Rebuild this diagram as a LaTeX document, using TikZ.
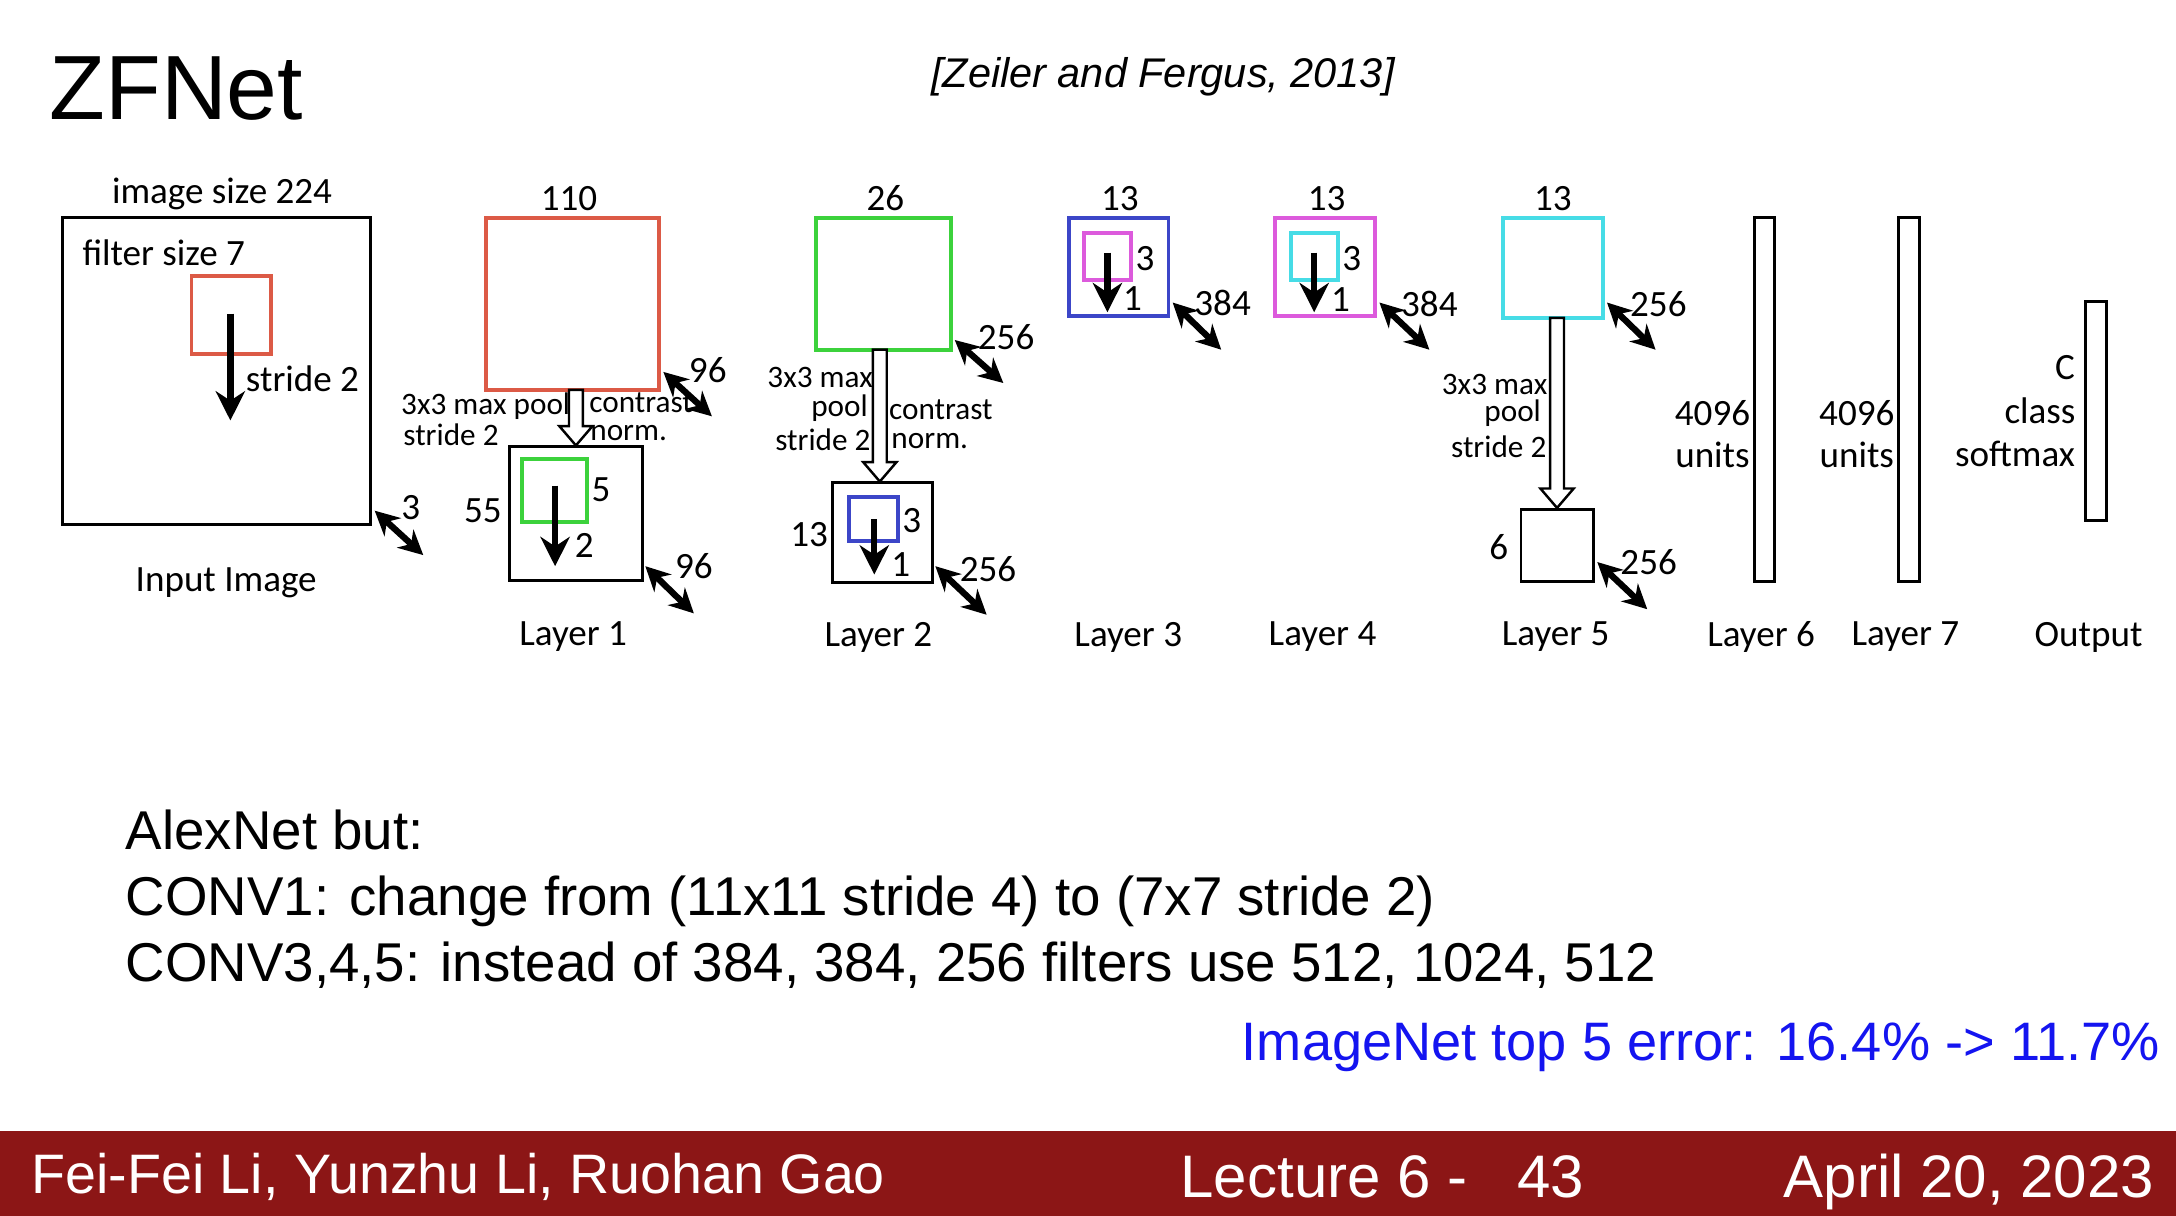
\documentclass[tikz,border=0pt]{standalone}
\usepackage{fontspec}
\setmainfont{Liberation Sans}
\newfontfamily\dfont{Carlito}
\usetikzlibrary{arrows.meta}
\definecolor{foot}{RGB}{140,22,22}
\definecolor{gn}{RGB}{60,210,60}
\definecolor{rd}{RGB}{220,90,70}
\definecolor{bl}{RGB}{60,70,200}
\definecolor{mg}{RGB}{220,90,220}
\definecolor{cy}{RGB}{70,220,230}
\tikzset{
 lab/.style={font=\dfont\fontsize{6.4}{7}\selectfont,inner sep=0pt},
 lay/.style={font=\dfont\fontsize{7.6}{8}\selectfont,inner sep=0pt},
 box/.style={draw=black,line width=0.6pt},
 darr/.style={line width=1.3pt,{Stealth[length=5pt,width=5pt]}-{Stealth[length=5pt,width=5pt]}},
 darrow/.style={line width=1.3pt,-{Stealth[length=6pt,width=6pt]}},
 body/.style={font=\fontsize{11.2}{13}\selectfont,inner sep=0pt,anchor=base west},
}
\newcommand{\hollow}[3]{% x, ytop, ybot
 \draw[line width=0.5pt,fill=white] (#1-5,#2) -- (#1+5,#2) -- (#1+5,#3-14) -- (#1+12,#3-14) -- (#1,#3) -- (#1-12,#3-14) -- (#1-5,#3-14) -- cycle;}
\begin{document}
\begin{tikzpicture}[x=0.01cm,y=-0.01cm]
\useasboundingbox (0,0) rectangle (1568,876);
\fill[white] (0,0) rectangle (1568,876);
\node[font=\fontsize{18.7}{22}\selectfont,anchor=base west,inner sep=0] (title) at (35,86) {ZFNet};
\node[font=\fontsize{8.5}{10}\selectfont\itshape,inner sep=0] (cite) at (838,55) {[Zeiler and Fergus, 2013]};
% input
\draw[box] (45,157) rectangle (267,378);
\node[lay] at (160,140) {image size 224};
\node[lay] at (118,182) {filter size 7};
\draw[rd,line width=0.8pt] (138,199) rectangle (195,255);
\draw[darrow] (166,226) -- (166,303);
\node[lay] at (218,273) {stride 2};
\draw[darr] (270,368) -- (305,400);
\node[lay] at (296,366) {3};
\node[lay] at (163,420) {Input Image};
% layer1
\draw[rd,line width=0.8pt] (350,157) rectangle (475,281);
\node[lay] at (410,143) {110};
\hollow{415}{281}{321}
\node[lab] at (350,293) {3x3 max pool};
\node[lab] at (325,313) {stride 2};
\node[lab] at (462,290) {contrast};
\node[lab] at (453,312) {norm.};
\draw[darr] (478,268) -- (513,300);
\node[lay] at (510,267) {96};
\draw[box] (367,322) rectangle (463,418);
\draw[gn,line width=0.8pt] (376,331) rectangle (423,376);
\draw[darrow] (400,350) -- (400,408);
\node[lay] at (433,353) {5};
\node[lay] at (421,393) {2};
\node[lay] at (348,368) {55};
\draw[darr] (465,408) -- (500,442);
\node[lay] at (500,408) {96};
\node[lay] at (413,459) {Layer 1};
% layer2
\draw[gn,line width=0.8pt] (588,157) rectangle (685,252);
\node[lay] at (638,143) {26};
\hollow{634}{252}{347}
\node[lab] at (591,272) {3x3 max};
\node[lab] at (605,294) {pool};
\node[lab] at (593,317) {stride 2};
\node[lab] at (678,295) {contrast};
\node[lab] at (670,318) {norm.};
\draw[darr] (688,245) -- (723,276);
\node[lay] at (725,243) {256};
\draw[box] (600,348) rectangle (672,420);
\draw[bl,line width=0.8pt] (612,358) rectangle (647,390);
\draw[darrow] (630,374) -- (630,414);
\node[lay] at (657,375) {3};
\node[lay] at (649,407) {1};
\node[lay] at (583,385) {13};
\draw[darr] (674,408) -- (711,443);
\node[lay] at (712,410) {256};
\node[lay] at (633,459) {Layer 2};
% layer3
\draw[bl,line width=0.8pt] (770,157) rectangle (842,228);
\node[lay] at (807,143) {13};
\draw[mg,line width=0.8pt] (781,168) rectangle (815,202);
\draw[darrow] (798,182) -- (798,225);
\node[lay] at (825,186) {3};
\node[lay] at (816,215) {1};
\draw[darr] (845,218) -- (880,252);
\node[lay] at (881,218) {384};
\node[lay] at (813,459) {Layer 3};
% layer4
\draw[mg,line width=0.8pt] (919,157) rectangle (991,228);
\node[lay] at (956,143) {13};
\draw[cy,line width=0.8pt] (930,168) rectangle (964,202);
\draw[darrow] (947,182) -- (947,225);
\node[lay] at (974,186) {3};
\node[lay] at (966,216) {1};
\draw[darr] (994,218) -- (1030,252);
\node[lay] at (1030,219) {384};
\node[lay] at (953,459) {Layer 4};
% layer5
\draw[cy,line width=0.8pt] (1083,157) rectangle (1155,229);
\node[lay] at (1119,143) {13};
\hollow{1122}{229}{366}
\node[lab] at (1077,277) {3x3 max};
\node[lab] at (1090,298) {pool};
\node[lab] at (1080,322) {stride 2};
\draw[darr] (1158,218) -- (1193,252);
\node[lay] at (1195,219) {256};
\draw[box] (1096,367) rectangle (1148,419);
\node[lay] at (1080,394) {6};
\draw[darr] (1151,405) -- (1187,439);
\node[lay] at (1188,405) {256};
\node[lay] at (1121,459) {Layer 5};
% layer 6,7, output
\draw[box] (1264,157) rectangle (1279,419);
\node[lay] at (1234,298) {4096};
\node[lay] at (1234,328) {units};
\node[lay] at (1269,459) {Layer 6};
\draw[box] (1368,157) rectangle (1383,419);
\node[lay] at (1338,298) {4096};
\node[lay] at (1338,328) {units};
\node[lay] at (1373,459) {Layer 7};
\draw[box] (1503,217) rectangle (1518,375);
\node[lay] at (1488,265) {C};
\node[lay] at (1470,296) {class};
\node[lay] at (1452,327) {softmax};
\node[lay] at (1505,459) {Output};
% text
\node[body] at (90,612) {AlexNet but:};
\node[body] at (90,660) {CONV1: change from (11x11 stride 4) to (7x7 stride 2)};
\node[body] at (90,707) {CONV3,4,5: instead of 384, 384, 256 filters use 512, 1024, 512};
\node[font=\fontsize{11.1}{13}\selectfont,inner sep=0pt,anchor=base east,text={rgb,255:red,20;green,20;blue,240}] at (1557,764) {ImageNet top 5 error: 16.4\% -> 11.7\%};
% footer
\fill[foot] (0,815) rectangle (1568,876);
\node[font=\fontsize{11.4}{15}\selectfont,text=white,anchor=base west,inner sep=0] at (22,860) {Fei-Fei Li, Yunzhu Li, Ruohan Gao};
\node[font=\fontsize{12.3}{15}\selectfont,text=white,anchor=base west,inner sep=0] at (850,863) {Lecture 6 -\ \ \ 43};
\node[font=\fontsize{12.3}{15}\selectfont,text=white,anchor=base east,inner sep=0] at (1553,863) {April 20, 2023};
\end{tikzpicture}
\end{document}
